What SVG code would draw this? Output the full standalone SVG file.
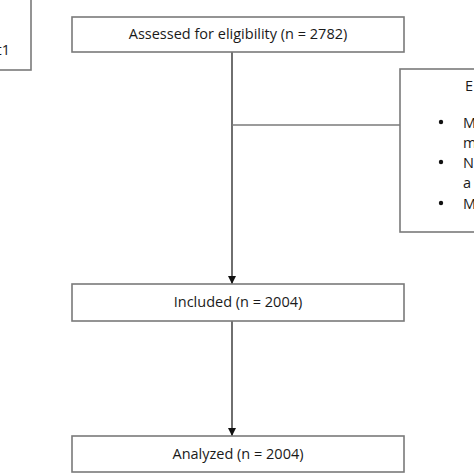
<svg xmlns="http://www.w3.org/2000/svg" width="474" height="474" viewBox="0 0 474 474">
<style>
.box{fill:#fff;stroke:#7a7a7a;stroke-width:1.6}
.t{font-family:"Open Sans","Liberation Sans",sans-serif;font-size:14.5px;fill:#1a1a1a}
.c{stroke:#222;stroke-width:1.3;fill:none}
.g{stroke:#7a7a7a;stroke-width:1.3;fill:none}
</style>
<defs>
<marker id="ah" viewBox="0 0 10 10" refX="10" refY="5" markerWidth="8" markerHeight="8" markerUnits="userSpaceOnUse" orient="auto">
<path d="M0,0 L10,5 L0,10 z" fill="#111"/>
</marker>
</defs>
<rect width="474" height="474" fill="#fff"/>
<g id="connectors">
<line class="c" x1="232" y1="52" x2="232" y2="284" marker-end="url(#ah)"/>
<line class="g" x1="232" y1="125" x2="400" y2="125"/>
<line class="c" x1="232" y1="321" x2="232" y2="436" marker-end="url(#ah)"/>
</g>
<g id="left">
<rect class="box" x="-10" y="-2" width="41" height="72"/>
<text class="t" x="10" y="55" text-anchor="end">t1</text>
</g>
<g id="assessed">
<rect class="box" x="72" y="17" width="332" height="35"/>
<text class="t" x="238" y="39" text-anchor="middle">Assessed for eligibility (n = 2782)</text>
</g>
<g id="excluded">
<rect class="box" x="400" y="69" width="90" height="163"/>
<text class="t" x="465" y="91">E</text>
<circle cx="441" cy="122" r="2.2" fill="#111"/>
<circle cx="441" cy="162" r="2.2" fill="#111"/>
<circle cx="441" cy="203" r="2.2" fill="#111"/>
<text class="t" x="463" y="128">M</text>
<text class="t" x="463" y="148">m</text>
<text class="t" x="463" y="168">N</text>
<text class="t" x="463" y="188">a</text>
<text class="t" x="463" y="209">M</text>
</g>
<g id="included">
<rect class="box" x="72" y="284" width="332" height="37"/>
<text class="t" x="238" y="307" text-anchor="middle">Included (n = 2004)</text>
</g>
<g id="analyzed">
<rect class="box" x="72" y="436" width="332" height="36"/>
<text class="t" x="238" y="459" text-anchor="middle">Analyzed (n = 2004)</text>
</g>
</svg>
